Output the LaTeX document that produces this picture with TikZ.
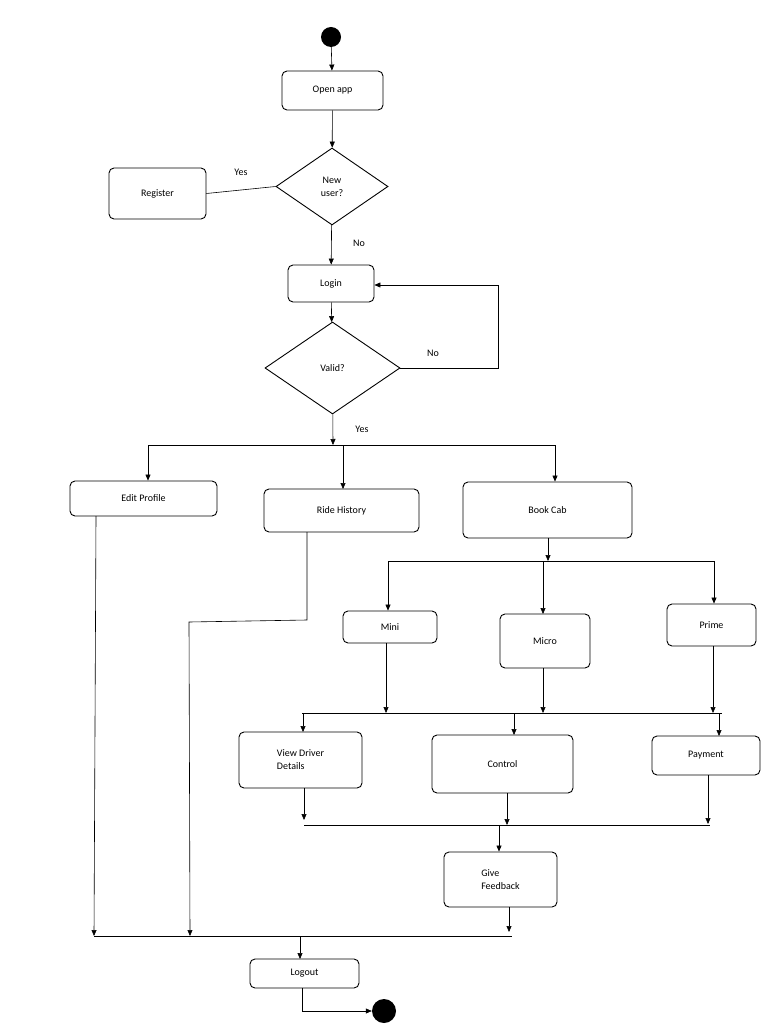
\documentclass[tikz,border=0pt]{standalone}
\usepackage{fontspec}
\setmainfont{Carlito}
\usetikzlibrary{shapes.geometric,arrows.meta}
\begin{document}
\begin{tikzpicture}[x=1pt,y=-1pt,
  box/.style={draw,rounded corners=5pt,line width=0.9pt,inner sep=2pt,font=\fontsize{10}{13}\selectfont},
  dia/.style={draw,diamond,line width=0.9pt,inner sep=0pt,font=\fontsize{10}{13}\selectfont},
  lab/.style={font=\fontsize{10}{12}\selectfont},
  ar/.style={-{Triangle[length=6pt,width=5pt]},line width=0.6pt},
  ln/.style={line width=0.6pt},
  dot/.style={fill=black,circle,inner sep=0pt}]
\useasboundingbox (0,0) rectangle (768,1024);
\node[dot,minimum size=20pt] (start) at (331,37) {};
\node[box,minimum width=101pt,minimum height=39pt] (open) at (332.5,90.5) {Open app};
\node[dia,minimum width=112pt,minimum height=77pt,align=center] (new) at (332,186.5) {New\\user?};
\node[box,minimum width=97pt,minimum height=51pt] (reg) at (157.5,193.5) {Register};
\node[box,minimum width=86pt,minimum height=37pt] (login) at (331,283.5) {Login};
\node[dia,minimum width=135pt,minimum height=92pt] (valid) at (332.5,368) {Valid?};
\node[lab] at (241,172) {Yes};
\node[lab] at (359,243) {No};
\node[lab] at (433,353) {No};
\node[lab] at (362,429) {Yes};
\draw[ar] (start) -- (open);
\draw[ar] (open) -- (new);
\draw[ln] (new.west) -- (reg.east);
\draw[ar] (new) -- (login);
\draw[ar] (login) -- (valid);
\coordinate (lr) at (498,368);
\coordinate (lt) at (498,285);
\draw[ar] (valid.east) -- (lr) -- (lt) -- (login.east |- lt);
% level 1
\node[box,minimum width=147pt,minimum height=35pt] (edit) at (143.5,498.5) {Edit Profile};
\node[box,minimum width=155pt,minimum height=43pt] (ride) at (341.5,510.5) {Ride History};
\node[box,minimum width=169pt,minimum height=56pt] (book) at (547.5,510) {Book Cab};
\coordinate (b1) at (333,445);
\coordinate (b1l) at (148,445);
\coordinate (b1r) at (555,445);
\draw[ar] (valid) -- (b1);
\draw[ln] (b1l) -- (b1r);
\draw[ar] (b1l) -- (b1l |- edit.north);
\draw[ar] (343,445) -- (343,489);
\draw[ar] (b1r) -- (b1r |- book.north);
% level 2
\node[box,minimum width=94pt,minimum height=32pt] (mini) at (390,627) {Mini};
\node[box,minimum width=90pt,minimum height=54pt] (micro) at (545,641) {Micro};
\node[box,minimum width=89pt,minimum height=42pt] (prime) at (711.5,625) {Prime};
\coordinate (b2) at (548,561);
\coordinate (b2l) at (388,561);
\coordinate (b2r) at (714,561);
\draw[ar] (book.south -| b2) -- (b2);
\draw[ln] (b2l) -- (b2r);
\draw[ar] (b2l) -- (b2l |- mini.north);
\draw[ar] (543,561) -- (543,614);
\draw[ar] (b2r) -- (b2r |- prime.north);
% level 3
\coordinate (b3l) at (302,713);
\coordinate (b3r) at (722,713);
\draw[ar] (386,643) -- (386,713);
\draw[ar] (543,668) -- (543,713);
\draw[ar] (713,646) -- (713,713);
\draw[ln] (b3l) -- (b3r);
\node[box,minimum width=123pt,minimum height=56pt,align=left] (vdd) at (300.5,760) {View Driver\\Details};
\node[box,minimum width=141pt,minimum height=58pt] (ctrl) at (502.5,764) {Control\\[12pt]};
\node[box,minimum width=108pt,minimum height=39pt] (pay) at (706,755.5) {Payment};
\draw[ar] (303,713) -- (303,732);
\draw[ar] (514,713) -- (514,735);
\draw[ar] (719,713) -- (719,736);
% join
\coordinate (b4l) at (304,825);
\coordinate (b4r) at (710,825);
\draw[ar] (304,788) -- (304,820);
\draw[ar] (507,793) -- (507,825);
\draw[ar] (708,775) -- (708,824);
\draw[ln] (b4l) -- (b4r);
\node[box,minimum width=113pt,minimum height=55pt,align=left] (fb) at (500.5,879.5) {Give\\Feedback};
\draw[ar] (499,825) -- (fb.north -| 499,0);
% final join
\coordinate (b5l) at (94,936);
\coordinate (b5r) at (512,936);
\draw[ar] (509,907) -- (509,932);
\draw[ar] (96,516) -- (94,936);
\draw[ar] (307,532) -- (307,620) -- (189,622) -- (190,936);
\draw[ln] (b5l) -- (b5r);
\node[box,minimum width=109pt,minimum height=29pt] (logout) at (304.5,973.5) {Logout};
\draw[ar] (300,936) -- (300,959);
\node[dot,minimum size=24pt] (end) at (384,1011) {};
\draw[ar] (logout.south -| 302,0) -- (302,1011) -- (end.west);
\end{tikzpicture}
\end{document}
